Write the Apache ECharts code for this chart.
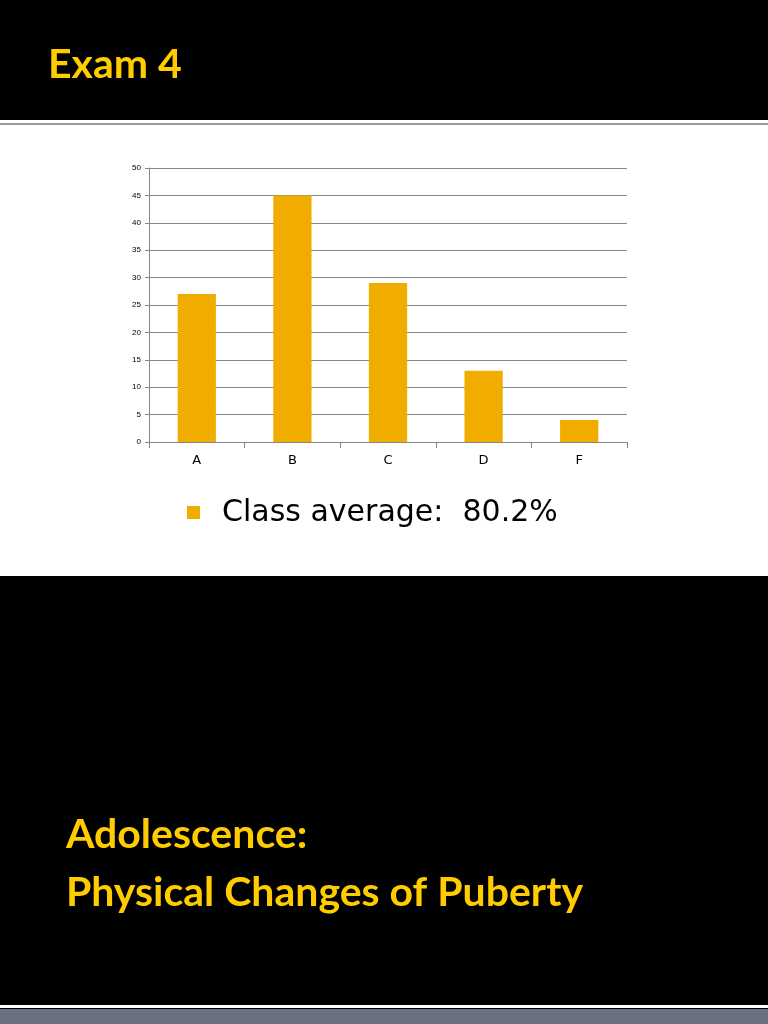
<!DOCTYPE html>
<html><head><meta charset="utf-8">
<script src="https://cdn.jsdelivr.net/npm/echarts@6/dist/echarts.min.js"></script>
<style>html,body{margin:0;padding:0;background:#000}#c{width:768px;height:1024px}</style>
</head><body><div id="c"></div>
<script>
const grades = ["A", "B", "C", "D", "F"];
const counts = [27, 45, 29, 13, 4];

const chart = echarts.init(document.getElementById("c"));
const yellow = "#FFCC00";
chart.setOption({
  backgroundColor: "#000",
  animation: false,
  graphic: [
    { type: "rect", shape: { x: 0, y: 120, width: 768, height: 3 }, style: { fill: "#fff" } },
    { type: "rect", shape: { x: 0, y: 123, width: 768, height: 2 }, style: { fill: "#999" } },
    { type: "rect", shape: { x: 0, y: 125, width: 768, height: 451 }, style: { fill: "#fff" }, z: -10 },
    { type: "rect", shape: { x: 0, y: 1005, width: 768, height: 3 }, style: { fill: "#fff" } },
    { type: "rect", shape: { x: 0, y: 1009, width: 768, height: 15 }, style: { fill: "#6b7180" } },
    { type: "text", left: 48, top: 44, style: { text: "Exam 4", fill: yellow, font: "bold 41px Lato" } },
    { type: "rect", shape: { x: 187, y: 506, width: 13, height: 13 }, style: { fill: "#F0AD00" } },
    { type: "text", left: 222, top: 498, style: { text: "Class average:  80.2%", fill: "#000", font: "30px 'DejaVu Sans'" } },
    { type: "text", left: 66, top: 806, style: { text: "Adolescence:\nPhysical Changes of Puberty", fill: yellow, font: "bold 41px Lato", lineHeight: 58 } }
  ],
  grid: { left: 149, right: 141, top: 168, bottom: 582 },
  xAxis: {
    type: "category", data: grades,
    axisLine: { lineStyle: { color: "#888" } },
    axisTick: { show: true, length: 6, lineStyle: { color: "#888" } },
    axisLabel: { color: "#000", fontSize: 13, margin: 12, fontFamily: "DejaVu Sans" }
  },
  yAxis: {
    type: "value", min: 0, max: 50, interval: 5,
    axisLine: { show: true, lineStyle: { color: "#888" } },
    axisTick: { show: true, length: 4, lineStyle: { color: "#888" } },
    axisLabel: { color: "#000", fontSize: 8, margin: 8 },
    splitLine: { lineStyle: { color: "#888" } }
  },
  series: [{
    type: "bar", data: counts, barWidth: "40%",
    itemStyle: { color: "#F0AD00" }
  }]
});
</script></body></html>
